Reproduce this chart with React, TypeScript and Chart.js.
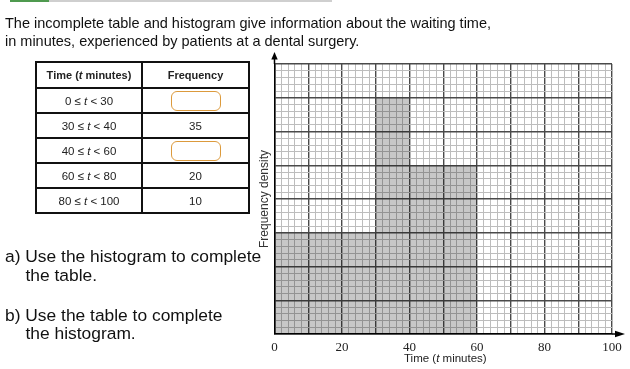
import React, { useEffect, useRef } from "react";
import { Chart, registerables } from "chart.js";

Chart.register(...registerables);

// ---- data ----
const classStart = [0, 30, 40, 60, 80];
const classEnd = [30, 40, 60, 80, 100];
const tableFrequency: (number | null)[] = [null, 35, null, 20, 10];
const drawnDensity: (number | null)[] = [1.5, 3.5, 2.5, null, null];
const xTickLabels = [0, 20, 40, 60, 80, 100];
const xRange = [0, 100];
const yRange = [0, 4];
const xMinorStep = 2;
const xMajorStep = 10;
const yMinorStep = 0.1;
const yMajorStep = 0.5;

const SANS = "'Liberation Sans', Arial, sans-serif";

function buildPoints() {
  const pts: { x: number; y: number }[] = [];
  let lastEnd: number | null = null;
  let lastFd: number | null = null;
  classStart.forEach((s, i) => {
    const fd = drawnDensity[i];
    if (fd == null) return;
    pts.push({ x: s, y: fd });
    lastEnd = classEnd[i];
    lastFd = fd;
  });
  if (lastEnd != null && lastFd != null) pts.push({ x: lastEnd, y: lastFd });
  return pts;
}

const isMultiple = (v: number, step: number) => {
  const r = v / step;
  return Math.abs(r - Math.round(r)) < 1e-6;
};

const axisArrows = {
  id: "axisArrows",
  afterDraw(chart: any) {
    const { ctx, chartArea } = chart;
    const { left, right, top, bottom } = chartArea;
    ctx.save();
    ctx.strokeStyle = "#000";
    ctx.fillStyle = "#000";
    ctx.lineWidth = 1.5;
    ctx.beginPath();
    ctx.moveTo(left, top);
    ctx.lineTo(left, top - 6);
    ctx.moveTo(right, bottom);
    ctx.lineTo(right + 4, bottom);
    ctx.stroke();
    ctx.beginPath();
    ctx.moveTo(left, top - 12);
    ctx.lineTo(left - 3.2, top - 4.5);
    ctx.lineTo(left + 3.2, top - 4.5);
    ctx.closePath();
    ctx.fill();
    ctx.beginPath();
    ctx.moveTo(right + 13, bottom);
    ctx.lineTo(right + 3, bottom - 3.3);
    ctx.lineTo(right + 3, bottom + 3.3);
    ctx.closePath();
    ctx.fill();
    ctx.restore();
  },
};

const gridColor = (v: number, major: number) => (isMultiple(v, major) ? "#4a4a4a" : "#bdbdbd");
const gridWidth = (v: number, major: number) => (isMultiple(v, major) ? 1.4 : 1);

function HistogramChart() {
  const ref = useRef<HTMLCanvasElement | null>(null);
  useEffect(() => {
    if (!ref.current) return;
    const chart = new Chart(ref.current, {
      type: "line",
      data: {
        datasets: [
          {
            data: buildPoints(),
            stepped: "before",
            fill: "origin",
            backgroundColor: "rgba(0,0,0,0.22)",
            borderColor: "rgba(0,0,0,0)",
            borderWidth: 0,
            pointRadius: 0,
          },
        ],
      },
      options: {
        animation: false,
        responsive: false,
        devicePixelRatio: 1,
        layout: { padding: { left: 253.5, right: 18, top: 64, bottom: 0 } },
        plugins: { legend: { display: false }, tooltip: { enabled: false } },
        scales: {
          x: {
            type: "linear",
            min: xRange[0],
            max: xRange[1],
            afterFit: (s: any) => {
              s.height = 35;
            },
            ticks: {
              stepSize: xMinorStep,
              autoSkip: false,
              maxRotation: 0,
              padding: 6,
              color: "#222",
              font: { family: "'Liberation Serif', 'Times New Roman', serif", size: 13 },
              callback: (v: any) => (xTickLabels.includes(Number(v)) ? String(v) : ""),
            },
            grid: {
              drawTicks: false,
              color: (c: any) => gridColor(c.tick.value, xMajorStep),
              lineWidth: (c: any) => gridWidth(c.tick.value, xMajorStep),
            },
            border: { display: true, color: "#000", width: 1.5 },
          },
          y: {
            type: "linear",
            min: yRange[0],
            max: yRange[1],
            afterFit: (s: any) => {
              s.width = 21;
            },
            ticks: { display: false, stepSize: yMinorStep, autoSkip: false },
            title: {
              display: true,
              text: "Frequency density",
              color: "#333",
              padding: 4,
              font: { family: SANS, size: 12 },
            },
            grid: {
              drawTicks: false,
              color: (c: any) => gridColor(c.tick.value, yMajorStep),
              lineWidth: (c: any) => gridWidth(c.tick.value, yMajorStep),
            },
            border: { display: true, color: "#000", width: 1.5 },
          },
        },
      },
      plugins: [axisArrows],
    } as any);
    return () => chart.destroy();
  }, []);
  return (
    <canvas
      ref={ref}
      width={630}
      height={369}
      style={{ position: "absolute", left: 0, top: 0, width: 630, height: 369 }}
    />
  );
}

const cellBorder = "2px solid #111";

function FreqTable() {
  return (
    <table
      style={{
        position: "absolute",
        left: 35,
        top: 61,
        width: 215,
        borderCollapse: "collapse",
        fontFamily: SANS,
        fontSize: 11.5,
        color: "#222",
        tableLayout: "fixed",
      }}
    >
      <tbody>
        <tr style={{ height: 26 }}>
          <th style={{ border: cellBorder, width: 104, fontWeight: 700, fontSize: 11, padding: 0 }}>
            Time (<i>t</i> minutes)
          </th>
          <th style={{ border: cellBorder, fontWeight: 700, fontSize: 11, padding: 0 }}>Frequency</th>
        </tr>
        {classStart.map((s, i) => (
          <tr key={i} style={{ height: 25 }}>
            <td style={{ border: cellBorder, textAlign: "center", padding: 0 }}>
              {s} ≤ <i>t</i> &lt; {classEnd[i]}
            </td>
            <td style={{ border: cellBorder, textAlign: "center", padding: 0 }}>
              {tableFrequency[i] == null ? (
                <div
                  style={{
                    width: 50,
                    height: 20,
                    margin: "0 auto",
                    border: "1.5px solid #dc9a3c",
                    borderRadius: 6,
                    boxSizing: "border-box",
                  }}
                />
              ) : (
                tableFrequency[i]
              )}
            </td>
          </tr>
        ))}
      </tbody>
    </table>
  );
}

const line = (top: number, left: number, size: number, text: React.ReactNode) => (
  <div
    style={{
      position: "absolute",
      top,
      left,
      fontSize: size,
      lineHeight: `${size}px`,
      whiteSpace: "nowrap",
      fontFamily: SANS,
      color: "#111",
    }}
  >
    {text}
  </div>
);

export default function App() {
  return (
    <div
      style={{
        position: "absolute",
        left: 0,
        top: 0,
        width: 630,
        height: 369,
        overflow: "hidden",
        background: "#fff",
      }}
    >
      <div style={{ position: "absolute", left: 10, top: 0, width: 322, height: 2, background: "#cfcfcf" }} />
      <div style={{ position: "absolute", left: 10, top: 0, width: 39, height: 2, background: "#4f9a4f" }} />
      <HistogramChart />
      {line(16, 5, 14.5, "The incomplete table and histogram give information about the waiting time,")}
      {line(34.4, 5, 14.5, "in minutes, experienced by patients at a dental surgery.")}
      <FreqTable />
      {line(248.3, 5, 17.4, "a) Use the histogram to complete")}
      {line(267, 25.5, 17.4, "the table.")}
      {line(307, 5, 17.4, "b) Use the table to complete")}
      {line(325.3, 25.5, 17.4, "the histogram.")}
      <div
        style={{
          position: "absolute",
          left: 404,
          top: 352,
          fontSize: 11.5,
          lineHeight: "12px",
          fontFamily: SANS,
          color: "#222",
          whiteSpace: "nowrap",
        }}
      >
        Time (<i>t</i> minutes)
      </div>
    </div>
  );
}
